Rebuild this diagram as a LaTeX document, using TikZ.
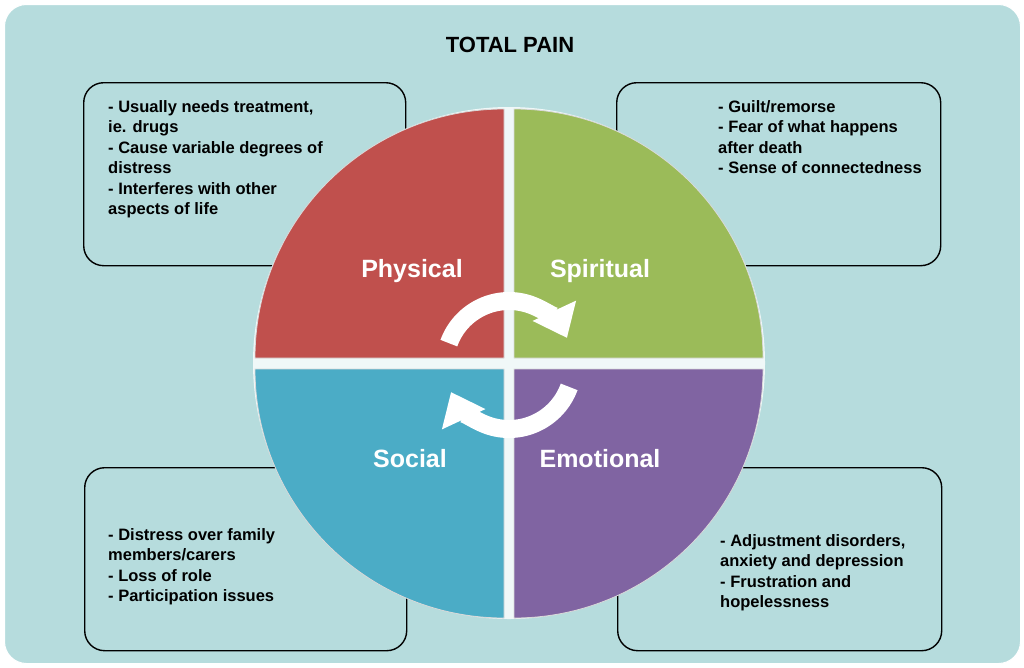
\documentclass[tikz,border=0pt]{standalone}
\usepackage{fontspec}
\setmainfont{Liberation Sans}
\usetikzlibrary{arrows.meta}
\definecolor{bg}{HTML}{B6DCDD}
\definecolor{qred}{HTML}{C0504D}
\definecolor{qgreen}{HTML}{9BBB59}
\definecolor{qblue}{HTML}{4BACC6}
\definecolor{qpurple}{HTML}{8064A2}
\begin{document}
\begin{tikzpicture}[x=1pt,y=-1pt,
  box/.style={draw=black,line width=1.4pt,rounded corners=20pt,fill=bg},
  txt/.style={anchor=north west,align=left,font=\fontsize{16.5}{20.5}\selectfont\bfseries,inner sep=0pt},
  lab/.style={font=\fontsize{25}{28}\selectfont\bfseries,text=white},
  quad/.style={draw=white!85!black,line width=0.8pt},
  carr/.style={white,line width=18pt,-{Triangle[length=30pt,width=46pt]}}]
\useasboundingbox (0,0) rectangle (1024,667);
\node[draw=white,line width=1pt,fill=bg,rounded corners=22pt,minimum width=1016pt,minimum height=659pt,anchor=north west] (bgbox) at (4,4) {};
\node[font=\fontsize{22}{26}\selectfont\bfseries] (title) at (510,45) {TOTAL PAIN};
% boxes
\node[box,minimum width=322pt,minimum height=183pt,anchor=north west] (b1) at (83,82) {};
\node[box,minimum width=324pt,minimum height=183pt,anchor=north west] (b2) at (616,82) {};
\node[box,minimum width=322pt,minimum height=183pt,anchor=north west] (b3) at (84,467) {};
\node[box,minimum width=324pt,minimum height=183pt,anchor=north west] (b4) at (617,467) {};
\node[txt] (t1) at (108,100) {- Usually needs treatment,\\ie. drugs\\- Cause variable degrees of\\distress\\- Interferes with other\\aspects of life};
\node[txt] (t2) at (718,100) {- Guilt/remorse\\- Fear of what happens\\after death\\- Sense of connectedness};
\node[txt] (t3) at (108,528) {- Distress over family\\members/carers\\- Loss of role\\- Participation issues};
\node[txt] (t4) at (720,534) {- Adjustment disorders,\\anxiety and depression\\- Frustration and\\hopelessness};
% quadrants
\fill[white!80!bg] (509,363) circle (256);
\filldraw[quad,fill=qred] (504,358) -- ++(-249,0) arc[start angle=180,end angle=270,radius=249] -- cycle;
\filldraw[quad,fill=qgreen] (514,358) -- ++(0,-249) arc[start angle=270,end angle=360,radius=249] -- cycle;
\filldraw[quad,fill=qblue] (504,369) -- ++(-249,0) arc[start angle=180,end angle=90,radius=249] -- cycle;
\filldraw[quad,fill=qpurple] (514,369) -- ++(0,249) arc[start angle=90,end angle=0,radius=249] -- cycle;
\node[lab] (l1) at (412,271) {Physical};
\node[lab] (l2) at (600,271) {Spiritual};
\node[lab] (l3) at (410,459) {Social};
\node[lab] (l4) at (600,459) {Emotional};
% circular arrows
\coordinate (c) at (509,365);
\draw[carr] ([shift={(200:64)}]c) arc[start angle=200,end angle=335,radius=64];
\draw[carr] ([shift={(20:64)}]c) arc[start angle=20,end angle=155,radius=64];
\end{tikzpicture}
\end{document}
